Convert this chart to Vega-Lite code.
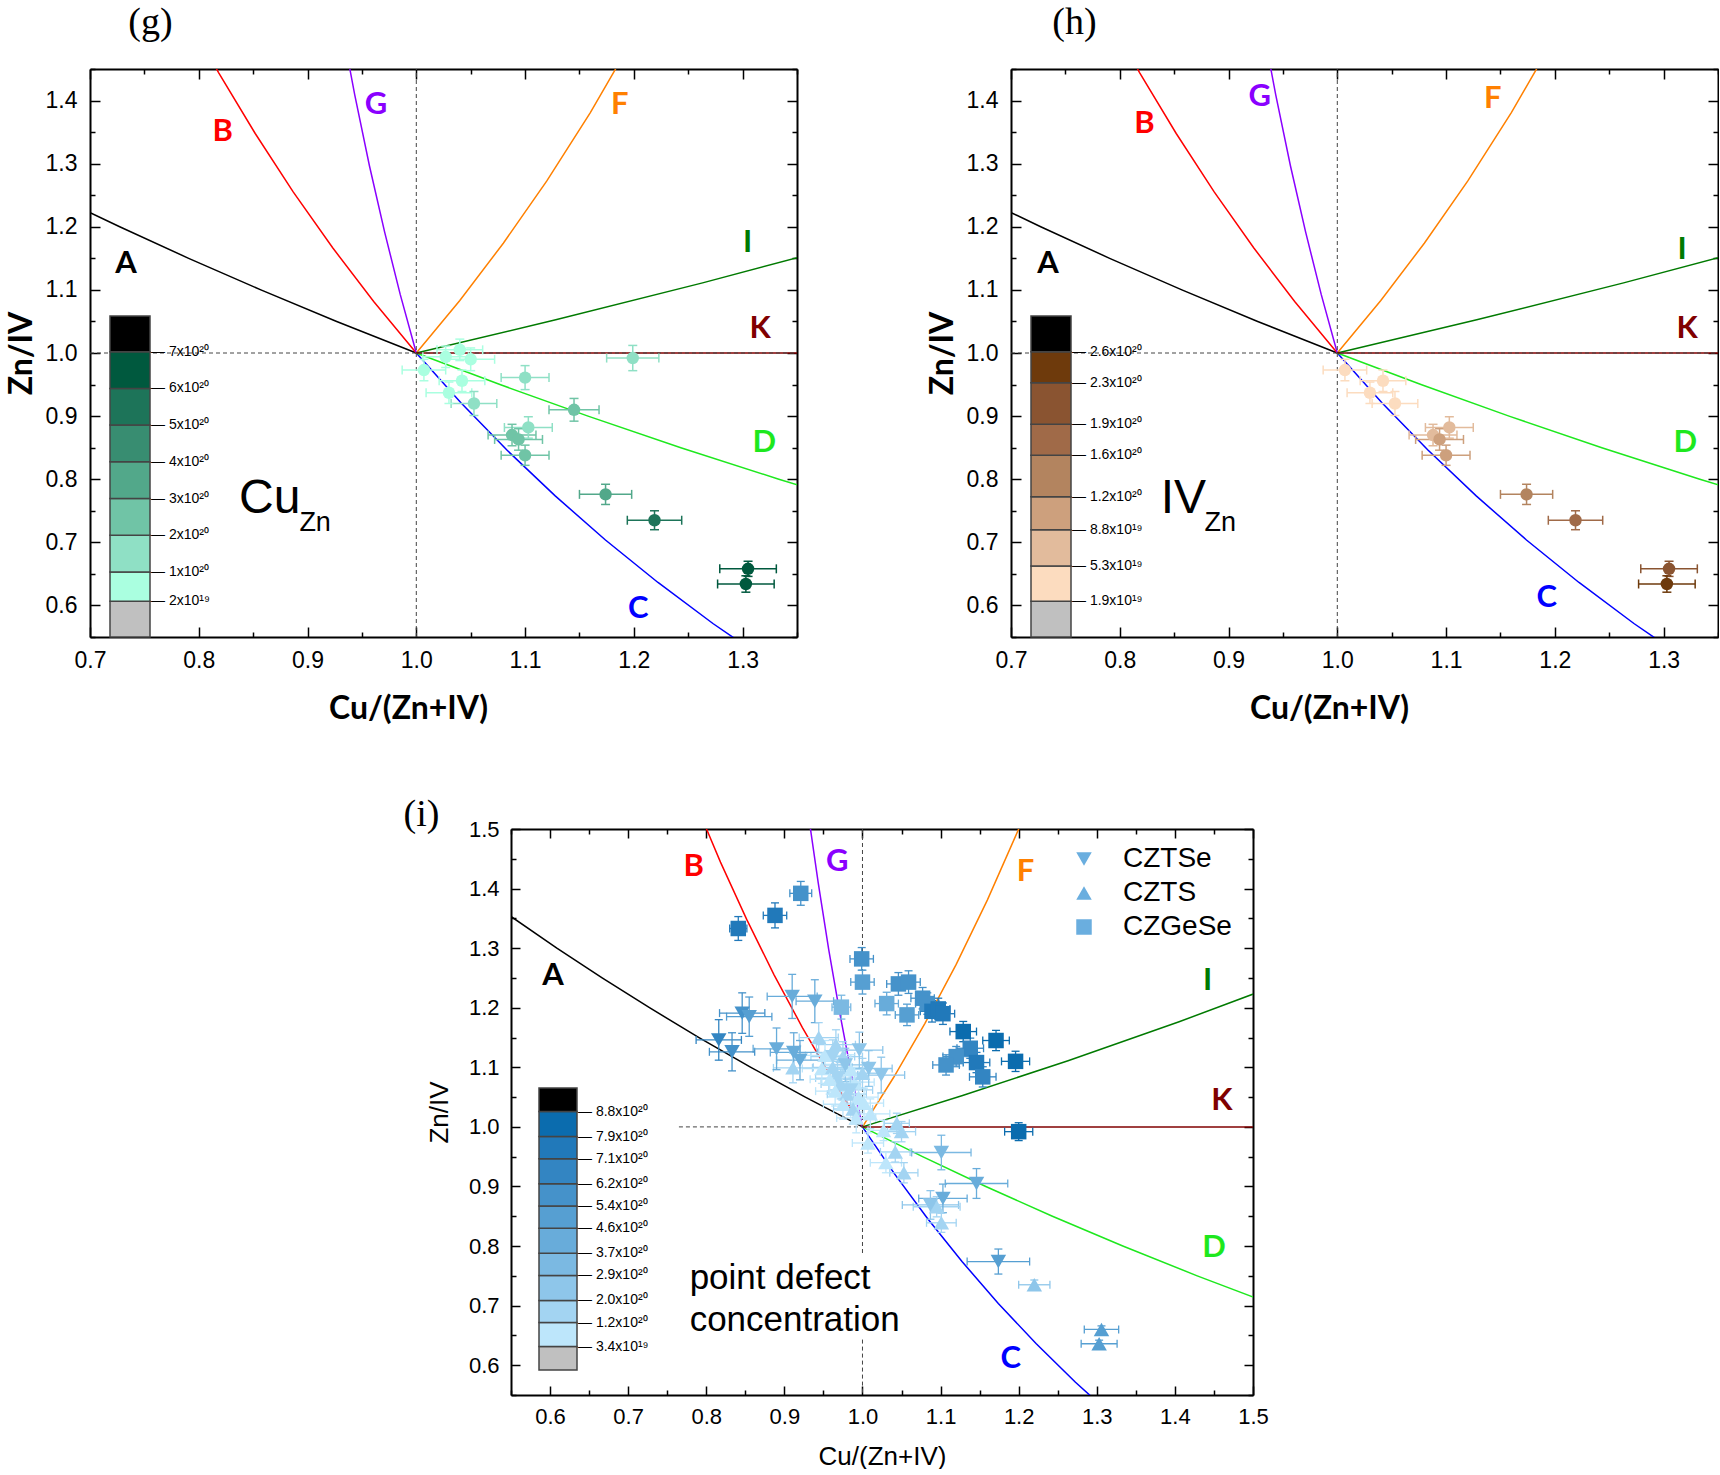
{
  "$schema": "https://vega.github.io/schema/vega-lite/v6.json",
  "background": "white",
  "autosize": {"type": "pad"},
  "padding": {"left": 5, "top": 3, "right": 0, "bottom": 0},
  "datasets": {
    "curves": [
      {"curve": "A", "x": 1, "y": 1}, {"curve": "A", "x": 0.9268, "y": 1.05}, {"curve": "A", "x": 0.8571, "y": 1.1}, {"curve": "A", "x": 0.7907, "y": 1.15}, {"curve": "A", "x": 0.7273, "y": 1.2}, {"curve": "A", "x": 0.6667, "y": 1.25}, {"curve": "A", "x": 0.6087, "y": 1.3}, {"curve": "A", "x": 0.5424, "y": 1.36},
      {"curve": "B", "x": 1, "y": 1}, {"curve": "B", "x": 0.9608, "y": 1.0816}, {"curve": "B", "x": 0.9231, "y": 1.1667}, {"curve": "B", "x": 0.8868, "y": 1.2553}, {"curve": "B", "x": 0.8519, "y": 1.3478}, {"curve": "B", "x": 0.8182, "y": 1.4444}, {"curve": "B", "x": 0.7857, "y": 1.5455},
      {"curve": "C", "x": 1, "y": 1}, {"curve": "C", "x": 1.0408, "y": 0.9216}, {"curve": "C", "x": 1.0833, "y": 0.8462}, {"curve": "C", "x": 1.1277, "y": 0.7736}, {"curve": "C", "x": 1.1739, "y": 0.7037}, {"curve": "C", "x": 1.2222, "y": 0.6364}, {"curve": "C", "x": 1.2727, "y": 0.5714}, {"curve": "C", "x": 1.3256, "y": 0.5088},
      {"curve": "D", "x": 1, "y": 1}, {"curve": "D", "x": 1.0769, "y": 0.95}, {"curve": "D", "x": 1.1579, "y": 0.9}, {"curve": "D", "x": 1.2432, "y": 0.85}, {"curve": "D", "x": 1.3333, "y": 0.8}, {"curve": "D", "x": 1.4286, "y": 0.75}, {"curve": "D", "x": 1.5294, "y": 0.7},
      {"curve": "F", "x": 1, "y": 1}, {"curve": "F", "x": 1.04, "y": 1.0833}, {"curve": "F", "x": 1.08, "y": 1.1739}, {"curve": "F", "x": 1.12, "y": 1.2727}, {"curve": "F", "x": 1.16, "y": 1.381}, {"curve": "F", "x": 1.2, "y": 1.5}, {"curve": "F", "x": 1.22, "y": 1.5641},
      {"curve": "G", "x": 1, "y": 1}, {"curve": "G", "x": 0.9852, "y": 1.0928}, {"curve": "G", "x": 0.9709, "y": 1.1915}, {"curve": "G", "x": 0.9569, "y": 1.2967}, {"curve": "G", "x": 0.9434, "y": 1.4091}, {"curve": "G", "x": 0.9302, "y": 1.5294},
      {"curve": "I", "x": 1, "y": 1}, {"curve": "I", "x": 1.1282, "y": 1.0526}, {"curve": "I", "x": 1.2632, "y": 1.1111}, {"curve": "I", "x": 1.4054, "y": 1.1765}, {"curve": "I", "x": 1.5556, "y": 1.25},
      {"curve": "K", "x": 1, "y": 1}, {"curve": "K", "x": 1.6, "y": 1}
    ],
    "guides": [
      {"panel": "top", "seg": "h", "x": 0.7, "y": 1}, {"panel": "top", "seg": "h", "x": 1.35, "y": 1},
      {"panel": "top", "seg": "v", "x": 1, "y": 0.55}, {"panel": "top", "seg": "v", "x": 1, "y": 1.45},
      {"panel": "i", "seg": "h", "x": 0.765, "y": 1}, {"panel": "i", "seg": "h", "x": 1, "y": 1},
      {"panel": "i", "seg": "v1", "x": 1, "y": 1.5}, {"panel": "i", "seg": "v1", "x": 1, "y": 0.785},
      {"panel": "i", "seg": "v2", "x": 1, "y": 0.643}, {"panel": "i", "seg": "v2", "x": 1, "y": 0.55}
    ],
    "letters": [
      {"panel": "g", "curve": "A", "x": 0.733, "y": 1.141}, {"panel": "g", "curve": "B", "x": 0.822, "y": 1.35}, {"panel": "g", "curve": "G", "x": 0.963, "y": 1.393}, {"panel": "g", "curve": "F", "x": 1.187, "y": 1.393}, {"panel": "g", "curve": "I", "x": 1.3045, "y": 1.175}, {"panel": "g", "curve": "K", "x": 1.316, "y": 1.038}, {"panel": "g", "curve": "D", "x": 1.32, "y": 0.857}, {"panel": "g", "curve": "C", "x": 1.204, "y": 0.595},
      {"panel": "h", "curve": "A", "x": 0.734, "y": 1.141}, {"panel": "h", "curve": "B", "x": 0.8226, "y": 1.363}, {"panel": "h", "curve": "G", "x": 0.9286, "y": 1.406}, {"panel": "h", "curve": "F", "x": 1.143, "y": 1.402}, {"panel": "h", "curve": "I", "x": 1.317, "y": 1.163}, {"panel": "h", "curve": "K", "x": 1.3216, "y": 1.038}, {"panel": "h", "curve": "D", "x": 1.32, "y": 0.857}, {"panel": "h", "curve": "C", "x": 1.1925, "y": 0.612},
      {"panel": "i", "curve": "A", "x": 0.6037, "y": 1.2526}, {"panel": "i", "curve": "B", "x": 0.7838, "y": 1.4356}, {"panel": "i", "curve": "G", "x": 0.9676, "y": 1.445}, {"panel": "i", "curve": "F", "x": 1.2088, "y": 1.428}, {"panel": "i", "curve": "I", "x": 1.442, "y": 1.245}, {"panel": "i", "curve": "K", "x": 1.46, "y": 1.043}, {"panel": "i", "curve": "D", "x": 1.45, "y": 0.796}, {"panel": "i", "curve": "C", "x": 1.19, "y": 0.61}
    ],
    "notes": [
      {"panel": "g", "role": "tag", "text": "(g)", "x": 0.7556, "y": 1.5055},
      {"panel": "g", "role": "big", "text": "Cu", "x": 0.837, "y": 0.7463},
      {"panel": "g", "role": "sub", "text": "Zn", "x": 0.8925, "y": 0.7187},
      {"panel": "h", "role": "tag", "text": "(h)", "x": 0.7584, "y": 1.5055},
      {"panel": "h", "role": "big", "text": "IV", "x": 0.8377, "y": 0.7463},
      {"panel": "h", "role": "sub", "text": "Zn", "x": 0.8779, "y": 0.7187},
      {"panel": "i", "role": "tag", "text": "(i)", "x": 0.4354, "y": 1.505},
      {"panel": "i", "role": "note", "text": "point defect", "x": 0.7787, "y": 0.728},
      {"panel": "i", "role": "note", "text": "concentration", "x": 0.7787, "y": 0.658}
    ],
    "cuzn": [
      {"x": 1.040, "y": 1.005, "xerr": 0.021, "yerr": 0.017, "conc": 6e19},
      {"x": 1.027, "y": 0.994, "xerr": 0.021, "yerr": 0.017, "conc": 6e19},
      {"x": 1.050, "y": 0.990, "xerr": 0.022, "yerr": 0.018, "conc": 7e19},
      {"x": 1.007, "y": 0.973, "xerr": 0.020, "yerr": 0.017, "conc": 5e19},
      {"x": 1.042, "y": 0.956, "xerr": 0.021, "yerr": 0.017, "conc": 6e19},
      {"x": 1.030, "y": 0.937, "xerr": 0.021, "yerr": 0.017, "conc": 6e19},
      {"x": 1.053, "y": 0.920, "xerr": 0.021, "yerr": 0.019, "conc": 1.3e20},
      {"x": 1.100, "y": 0.961, "xerr": 0.022, "yerr": 0.019, "conc": 1.5e20},
      {"x": 1.199, "y": 0.992, "xerr": 0.024, "yerr": 0.020, "conc": 1.5e20},
      {"x": 1.103, "y": 0.882, "xerr": 0.022, "yerr": 0.017, "conc": 1.5e20},
      {"x": 1.145, "y": 0.910, "xerr": 0.023, "yerr": 0.018, "conc": 2.5e20},
      {"x": 1.088, "y": 0.870, "xerr": 0.022, "yerr": 0.017, "conc": 2.2e20},
      {"x": 1.094, "y": 0.863, "xerr": 0.022, "yerr": 0.017, "conc": 2.6e20},
      {"x": 1.100, "y": 0.838, "xerr": 0.022, "yerr": 0.016, "conc": 2.5e20},
      {"x": 1.174, "y": 0.776, "xerr": 0.024, "yerr": 0.016, "conc": 3.5e20},
      {"x": 1.219, "y": 0.735, "xerr": 0.025, "yerr": 0.015, "conc": 5.5e20},
      {"x": 1.305, "y": 0.658, "xerr": 0.026, "yerr": 0.012, "conc": 6.5e20},
      {"x": 1.303, "y": 0.634, "xerr": 0.026, "yerr": 0.013, "conc": 6.5e20}
    ],
    "ivzn": [
      {"x": 1.007, "y": 0.973, "xerr": 0.020, "yerr": 0.017, "conc": 3e19},
      {"x": 1.042, "y": 0.956, "xerr": 0.021, "yerr": 0.017, "conc": 4.5e19},
      {"x": 1.030, "y": 0.937, "xerr": 0.021, "yerr": 0.017, "conc": 4e19},
      {"x": 1.053, "y": 0.920, "xerr": 0.021, "yerr": 0.019, "conc": 4e19},
      {"x": 1.103, "y": 0.882, "xerr": 0.022, "yerr": 0.017, "conc": 7e19},
      {"x": 1.088, "y": 0.870, "xerr": 0.022, "yerr": 0.017, "conc": 8e19},
      {"x": 1.094, "y": 0.863, "xerr": 0.022, "yerr": 0.017, "conc": 1.0e20},
      {"x": 1.100, "y": 0.838, "xerr": 0.022, "yerr": 0.016, "conc": 1.0e20},
      {"x": 1.174, "y": 0.776, "xerr": 0.024, "yerr": 0.016, "conc": 1.4e20},
      {"x": 1.219, "y": 0.735, "xerr": 0.025, "yerr": 0.015, "conc": 1.75e20},
      {"x": 1.305, "y": 0.658, "xerr": 0.026, "yerr": 0.012, "conc": 2.1e20},
      {"x": 1.303, "y": 0.634, "xerr": 0.026, "yerr": 0.013, "conc": 2.45e20}
    ],
    "defects": [
      {"material": "CZTS", "x": 0.944, "y": 1.150, "xerr": 0.025, "yerr": 0.025, "conc": 1.6e20},
      {"material": "CZTS", "x": 0.966, "y": 1.138, "xerr": 0.025, "yerr": 0.025, "conc": 1.6e20},
      {"material": "CZTS", "x": 0.952, "y": 1.120, "xerr": 0.025, "yerr": 0.025, "conc": 8e19},
      {"material": "CZTS", "x": 0.975, "y": 1.118, "xerr": 0.025, "yerr": 0.025, "conc": 1.6e20},
      {"material": "CZTS", "x": 0.948, "y": 1.098, "xerr": 0.025, "yerr": 0.025, "conc": 8e19},
      {"material": "CZTS", "x": 0.962, "y": 1.100, "xerr": 0.025, "yerr": 0.025, "conc": 1.6e20},
      {"material": "CZTS", "x": 0.985, "y": 1.096, "xerr": 0.025, "yerr": 0.025, "conc": 8e19},
      {"material": "CZTS", "x": 0.958, "y": 1.080, "xerr": 0.025, "yerr": 0.025, "conc": 8e19},
      {"material": "CZTS", "x": 0.972, "y": 1.072, "xerr": 0.025, "yerr": 0.025, "conc": 1.6e20},
      {"material": "CZTS", "x": 0.990, "y": 1.075, "xerr": 0.025, "yerr": 0.025, "conc": 8e19},
      {"material": "CZTS", "x": 0.965, "y": 1.060, "xerr": 0.025, "yerr": 0.025, "conc": 8e19},
      {"material": "CZTS", "x": 0.980, "y": 1.055, "xerr": 0.025, "yerr": 0.025, "conc": 1.6e20},
      {"material": "CZTS", "x": 0.995, "y": 1.050, "xerr": 0.025, "yerr": 0.025, "conc": 8e19},
      {"material": "CZTS", "x": 0.975, "y": 1.038, "xerr": 0.025, "yerr": 0.025, "conc": 8e19},
      {"material": "CZTS", "x": 0.988, "y": 1.030, "xerr": 0.025, "yerr": 0.025, "conc": 1.6e20},
      {"material": "CZTS", "x": 1.002, "y": 1.040, "xerr": 0.025, "yerr": 0.025, "conc": 8e19},
      {"material": "CZTS", "x": 0.992, "y": 1.015, "xerr": 0.025, "yerr": 0.025, "conc": 8e19},
      {"material": "CZTS", "x": 1.010, "y": 1.022, "xerr": 0.025, "yerr": 0.025, "conc": 8e19},
      {"material": "CZTS", "x": 0.911, "y": 1.099, "xerr": 0.025, "yerr": 0.025, "conc": 1.6e20},
      {"material": "CZTS", "x": 1.000, "y": 1.090, "xerr": 0.025, "yerr": 0.025, "conc": 1.6e20},
      {"material": "CZTS", "x": 1.007, "y": 0.973, "xerr": 0.020, "yerr": 0.017, "conc": 8e19},
      {"material": "CZTS", "x": 1.027, "y": 0.994, "xerr": 0.020, "yerr": 0.017, "conc": 8e19},
      {"material": "CZTS", "x": 1.044, "y": 1.006, "xerr": 0.016, "yerr": 0.017, "conc": 1.6e20},
      {"material": "CZTS", "x": 1.050, "y": 0.992, "xerr": 0.018, "yerr": 0.017, "conc": 1.6e20},
      {"material": "CZTS", "x": 1.042, "y": 0.958, "xerr": 0.019, "yerr": 0.017, "conc": 1.6e20},
      {"material": "CZTS", "x": 1.030, "y": 0.940, "xerr": 0.020, "yerr": 0.017, "conc": 8e19},
      {"material": "CZTS", "x": 1.053, "y": 0.923, "xerr": 0.018, "yerr": 0.017, "conc": 1.6e20},
      {"material": "CZTS", "x": 1.095, "y": 0.866, "xerr": 0.030, "yerr": 0.017, "conc": 1.6e20},
      {"material": "CZTS", "x": 1.101, "y": 0.839, "xerr": 0.019, "yerr": 0.016, "conc": 1.6e20},
      {"material": "CZTS", "x": 1.220, "y": 0.735, "xerr": 0.020, "yerr": 0.008, "conc": 2.4e20},
      {"material": "CZTS", "x": 1.306, "y": 0.660, "xerr": 0.022, "yerr": 0.006, "conc": 5.0e20},
      {"material": "CZTS", "x": 1.303, "y": 0.636, "xerr": 0.023, "yerr": 0.006, "conc": 5.0e20},
      {"material": "CZTSe", "x": 0.968, "y": 1.082, "xerr": 0.028, "yerr": 0.028, "conc": 1.6e20},
      {"material": "CZTSe", "x": 0.985, "y": 1.062, "xerr": 0.028, "yerr": 0.028, "conc": 1.6e20},
      {"material": "CZTSe", "x": 0.978, "y": 1.104, "xerr": 0.028, "yerr": 0.028, "conc": 2.4e20},
      {"material": "CZTSe", "x": 0.962, "y": 1.118, "xerr": 0.028, "yerr": 0.028, "conc": 1.6e20},
      {"material": "CZTSe", "x": 0.910, "y": 1.219, "xerr": 0.032, "yerr": 0.037, "conc": 4.2e20},
      {"material": "CZTSe", "x": 0.939, "y": 1.211, "xerr": 0.024, "yerr": 0.036, "conc": 4.2e20},
      {"material": "CZTSe", "x": 0.846, "y": 1.191, "xerr": 0.029, "yerr": 0.034, "conc": 5.8e20},
      {"material": "CZTSe", "x": 0.855, "y": 1.185, "xerr": 0.029, "yerr": 0.033, "conc": 5.0e20},
      {"material": "CZTSe", "x": 0.816, "y": 1.146, "xerr": 0.029, "yerr": 0.034, "conc": 6.6e20},
      {"material": "CZTSe", "x": 0.833, "y": 1.126, "xerr": 0.029, "yerr": 0.032, "conc": 5.8e20},
      {"material": "CZTSe", "x": 0.890, "y": 1.131, "xerr": 0.030, "yerr": 0.035, "conc": 4.2e20},
      {"material": "CZTSe", "x": 0.912, "y": 1.125, "xerr": 0.030, "yerr": 0.033, "conc": 4.2e20},
      {"material": "CZTSe", "x": 0.920, "y": 1.112, "xerr": 0.030, "yerr": 0.033, "conc": 3.8e20},
      {"material": "CZTSe", "x": 0.996, "y": 1.129, "xerr": 0.030, "yerr": 0.030, "conc": 2.4e20},
      {"material": "CZTSe", "x": 1.008, "y": 1.098, "xerr": 0.030, "yerr": 0.030, "conc": 2.4e20},
      {"material": "CZTSe", "x": 1.024, "y": 1.087, "xerr": 0.030, "yerr": 0.030, "conc": 2.4e20},
      {"material": "CZTSe", "x": 1.101, "y": 0.957, "xerr": 0.038, "yerr": 0.029, "conc": 3.3e20},
      {"material": "CZTSe", "x": 1.146, "y": 0.905, "xerr": 0.040, "yerr": 0.025, "conc": 4.2e20},
      {"material": "CZTSe", "x": 1.103, "y": 0.880, "xerr": 0.031, "yerr": 0.024, "conc": 4.2e20},
      {"material": "CZTSe", "x": 1.087, "y": 0.869, "xerr": 0.036, "yerr": 0.024, "conc": 2.4e20},
      {"material": "CZTSe", "x": 1.174, "y": 0.774, "xerr": 0.040, "yerr": 0.021, "conc": 5.0e20},
      {"material": "CZGeSe", "x": 0.841, "y": 1.333, "xerr": 0.011, "yerr": 0.020, "conc": 7.5e20},
      {"material": "CZGeSe", "x": 0.888, "y": 1.355, "xerr": 0.015, "yerr": 0.021, "conc": 7.5e20},
      {"material": "CZGeSe", "x": 0.921, "y": 1.392, "xerr": 0.014, "yerr": 0.020, "conc": 5.8e20},
      {"material": "CZGeSe", "x": 0.999, "y": 1.282, "xerr": 0.015, "yerr": 0.019, "conc": 5.8e20},
      {"material": "CZGeSe", "x": 1.000, "y": 1.243, "xerr": 0.015, "yerr": 0.020, "conc": 5.0e20},
      {"material": "CZGeSe", "x": 0.973, "y": 1.201, "xerr": 0.012, "yerr": 0.020, "conc": 3.3e20},
      {"material": "CZGeSe", "x": 1.031, "y": 1.207, "xerr": 0.015, "yerr": 0.019, "conc": 4.2e20},
      {"material": "CZGeSe", "x": 1.046, "y": 1.240, "xerr": 0.015, "yerr": 0.019, "conc": 5.8e20},
      {"material": "CZGeSe", "x": 1.059, "y": 1.243, "xerr": 0.015, "yerr": 0.019, "conc": 5.8e20},
      {"material": "CZGeSe", "x": 1.057, "y": 1.188, "xerr": 0.015, "yerr": 0.018, "conc": 5.0e20},
      {"material": "CZGeSe", "x": 1.077, "y": 1.216, "xerr": 0.015, "yerr": 0.018, "conc": 5.8e20},
      {"material": "CZGeSe", "x": 1.083, "y": 1.207, "xerr": 0.015, "yerr": 0.018, "conc": 5.8e20},
      {"material": "CZGeSe", "x": 1.089, "y": 1.194, "xerr": 0.015, "yerr": 0.018, "conc": 7.5e20},
      {"material": "CZGeSe", "x": 1.097, "y": 1.198, "xerr": 0.015, "yerr": 0.018, "conc": 7.5e20},
      {"material": "CZGeSe", "x": 1.103, "y": 1.190, "xerr": 0.015, "yerr": 0.018, "conc": 7.5e20},
      {"material": "CZGeSe", "x": 1.129, "y": 1.160, "xerr": 0.017, "yerr": 0.017, "conc": 8.3e20},
      {"material": "CZGeSe", "x": 1.171, "y": 1.145, "xerr": 0.017, "yerr": 0.017, "conc": 8.3e20},
      {"material": "CZGeSe", "x": 1.138, "y": 1.132, "xerr": 0.017, "yerr": 0.017, "conc": 6.6e20},
      {"material": "CZGeSe", "x": 1.120, "y": 1.118, "xerr": 0.017, "yerr": 0.017, "conc": 5.8e20},
      {"material": "CZGeSe", "x": 1.146, "y": 1.108, "xerr": 0.017, "yerr": 0.017, "conc": 7.5e20},
      {"material": "CZGeSe", "x": 1.196, "y": 1.110, "xerr": 0.018, "yerr": 0.017, "conc": 8.3e20},
      {"material": "CZGeSe", "x": 1.107, "y": 1.104, "xerr": 0.017, "yerr": 0.017, "conc": 5.8e20},
      {"material": "CZGeSe", "x": 1.154, "y": 1.084, "xerr": 0.017, "yerr": 0.017, "conc": 6.6e20},
      {"material": "CZGeSe", "x": 1.200, "y": 0.992, "xerr": 0.018, "yerr": 0.015, "conc": 8.3e20}
    ]
  },
  "vconcat": [
    {
      "hconcat": [
        {
          "width": 707,
          "height": 568,
          "layer": [
            {
              "data": {"name": "curves"},
              "mark": {"type": "line", "clip": true, "strokeWidth": 1.5},
              "encoding": {
                "x": {"field": "x", "type": "quantitative", "scale": {"domain": [0.7, 1.35], "nice": false, "zero": false},
                  "axis": {"orient": "bottom", "values": [0.7, 0.75, 0.8, 0.85, 0.9, 0.95, 1, 1.05, 1.1, 1.15, 1.2, 1.25, 1.3, 1.35],
                    "labelExpr": "abs(datum.value * 10 - round(datum.value * 10)) < 0.001 ? format(datum.value, '.1f') : ''",
                    "tickSize": {"condition": {"test": "abs(datum.value * 10 - round(datum.value * 10)) < 0.001", "value": -10}, "value": -5},
                    "labelFontSize": 23, "labelPadding": 22, "title": "Cu/(Zn+IV)", "titleFont": "Lato", "titleFontWeight": "bold", "titleFontSize": 32, "titlePadding": 16, "titleX": 318}},
                "y": {"field": "y", "type": "quantitative", "scale": {"domain": [0.55, 1.45], "nice": false, "zero": false},
                  "axis": {"orient": "left", "values": [0.55, 0.6, 0.65, 0.7, 0.75, 0.8, 0.85, 0.9, 0.95, 1, 1.05, 1.1, 1.15, 1.2, 1.25, 1.3, 1.35, 1.4, 1.45],
                    "labelExpr": "abs(datum.value * 10 - round(datum.value * 10)) < 0.001 ? format(datum.value, '.1f') : ''",
                    "tickSize": {"condition": {"test": "abs(datum.value * 10 - round(datum.value * 10)) < 0.001", "value": -10}, "value": -5},
                    "labelFontSize": 23, "labelPadding": 23, "title": "Zn/IV", "titleFont": "Lato", "titleFontWeight": "bold", "titleFontSize": 32, "titlePadding": 7}},
                "stroke": {"field": "curve", "type": "nominal", "scale": {"domain": ["A", "B", "C", "D", "F", "G", "I", "K"], "range": ["#000000", "#ff0000", "#0000ff", "#1ee81e", "#ff8000", "#8a00ff", "#007a00", "#800000"]}, "legend": null}
              }
            },
            {
              "data": {"name": "guides"},
              "transform": [{"filter": "datum.panel == 'top'"}],
              "mark": {"type": "line", "clip": true, "strokeDash": [4, 3], "strokeWidth": 1, "color": "#444444"},
              "encoding": {
                "x": {"field": "x", "type": "quantitative", "axis": {"orient": "top", "labels": false, "title": null, "values": [0.7, 0.75, 0.8, 0.85, 0.9, 0.95, 1, 1.05, 1.1, 1.15, 1.2, 1.25, 1.3, 1.35],
                  "tickSize": {"condition": {"test": "abs(datum.value * 10 - round(datum.value * 10)) < 0.001", "value": -10}, "value": -5}}},
                "y": {"field": "y", "type": "quantitative", "axis": {"orient": "right", "labels": false, "title": null, "values": [0.55, 0.6, 0.65, 0.7, 0.75, 0.8, 0.85, 0.9, 0.95, 1, 1.05, 1.1, 1.15, 1.2, 1.25, 1.3, 1.35, 1.4, 1.45],
                  "tickSize": {"condition": {"test": "abs(datum.value * 10 - round(datum.value * 10)) < 0.001", "value": -10}, "value": -5}}},
                "detail": {"field": "seg"}
              }
            },
            {
              "data": {"name": "cuzn"},
              "mark": {"type": "errorbar", "ticks": {"opacity": 1}, "rule": {"opacity": 1}, "size": 9, "thickness": 1.5},
              "encoding": {
                "x": {"field": "x", "type": "quantitative", "axis": null},
                "xError": {"field": "xerr"},
                "y": {"field": "y", "type": "quantitative", "axis": null},
                "color": {"field": "conc", "type": "quantitative", "scale": {"type": "threshold", "domain": [2e19, 1e20, 2e20, 3e20, 4e20, 5e20, 6e20, 7e20], "range": ["#c0c0c0", "#aaffe0", "#8fe0c5", "#70c4a6", "#52a88a", "#388d71", "#1d7459", "#00593e", "#000000"]},
                  "legend": {"type": "gradient", "orient": "none", "legendX": 20, "legendY": 247, "direction": "vertical", "title": null, "padding": 0, "gradientLength": 321, "gradientThickness": 40, "gradientStrokeColor": "#444444", "gradientStrokeWidth": 1.5, "labelFontSize": 14, "labelFont": "Liberation Sans", "labelColor": "black", "labelOffset": 1, "labelOverlap": false,
                    "labelExpr": "datum.value > 0 ? '— ' + format(datum.value / pow(10, floor(log(datum.value) / LN10 + 0.000001)), '.0f') + 'x10' + (floor(log(datum.value) / LN10 + 0.000001) >= 20 ? '²⁰' : '¹⁹') : ''"}}
              }
            },
            {
              "data": {"name": "cuzn"},
              "mark": {"type": "errorbar", "ticks": {"opacity": 1}, "rule": {"opacity": 1}, "size": 9, "thickness": 1.5},
              "encoding": {
                "x": {"field": "x", "type": "quantitative", "axis": null},
                "y": {"field": "y", "type": "quantitative", "axis": null},
                "yError": {"field": "yerr"},
                "color": {"field": "conc", "type": "quantitative", "scale": {"type": "threshold", "domain": [2e19, 1e20, 2e20, 3e20, 4e20, 5e20, 6e20, 7e20], "range": ["#c0c0c0", "#aaffe0", "#8fe0c5", "#70c4a6", "#52a88a", "#388d71", "#1d7459", "#00593e", "#000000"]},
                  "legend": {"type": "gradient", "orient": "none", "legendX": 20, "legendY": 247, "direction": "vertical", "title": null, "padding": 0, "gradientLength": 321, "gradientThickness": 40, "gradientStrokeColor": "#444444", "gradientStrokeWidth": 1.5, "labelFontSize": 14, "labelFont": "Liberation Sans", "labelColor": "black", "labelOffset": 1, "labelOverlap": false,
                    "labelExpr": "datum.value > 0 ? '— ' + format(datum.value / pow(10, floor(log(datum.value) / LN10 + 0.000001)), '.0f') + 'x10' + (floor(log(datum.value) / LN10 + 0.000001) >= 20 ? '²⁰' : '¹⁹') : ''"}}
              }
            },
            {
              "data": {"name": "cuzn"},
              "mark": {"type": "circle", "size": 155, "opacity": 1},
              "encoding": {
                "x": {"field": "x", "type": "quantitative", "axis": null},
                "y": {"field": "y", "type": "quantitative", "axis": null},
                "color": {"field": "conc", "type": "quantitative", "scale": {"type": "threshold", "domain": [2e19, 1e20, 2e20, 3e20, 4e20, 5e20, 6e20, 7e20], "range": ["#c0c0c0", "#aaffe0", "#8fe0c5", "#70c4a6", "#52a88a", "#388d71", "#1d7459", "#00593e", "#000000"]},
                  "legend": {"type": "gradient", "orient": "none", "legendX": 20, "legendY": 247, "direction": "vertical", "title": null, "padding": 0, "gradientLength": 321, "gradientThickness": 40, "gradientStrokeColor": "#444444", "gradientStrokeWidth": 1.5, "labelFontSize": 14, "labelFont": "Liberation Sans", "labelColor": "black", "labelOffset": 1, "labelOverlap": false,
                    "labelExpr": "datum.value > 0 ? '— ' + format(datum.value / pow(10, floor(log(datum.value) / LN10 + 0.000001)), '.0f') + 'x10' + (floor(log(datum.value) / LN10 + 0.000001) >= 20 ? '²⁰' : '¹⁹') : ''"}}
              }
            },
            {
              "data": {"name": "letters"},
              "transform": [{"filter": "datum.panel == 'g'"}],
              "mark": {"type": "text", "font": "Lato", "fontWeight": "bold", "fontSize": 31, "align": "center", "baseline": "middle"},
              "encoding": {
                "x": {"field": "x", "type": "quantitative", "axis": null},
                "y": {"field": "y", "type": "quantitative", "axis": null},
                "text": {"field": "curve"},
                "fill": {"field": "curve", "type": "nominal", "scale": {"domain": ["A", "B", "C", "D", "F", "G", "I", "K"], "range": ["#000000", "#ff0000", "#0000ff", "#1ee81e", "#ff8000", "#8a00ff", "#007a00", "#800000"]}, "legend": null}
              }
            },
            {
              "data": {"name": "notes"},
              "transform": [{"filter": "datum.panel == 'g' && datum.role == 'tag'"}],
              "mark": {"type": "text", "font": "Liberation Serif", "fontSize": 38, "align": "center", "baseline": "alphabetic", "color": "black"},
              "encoding": {"x": {"field": "x", "type": "quantitative", "axis": null}, "y": {"field": "y", "type": "quantitative", "axis": null}, "text": {"field": "text"}}
            },
            {
              "data": {"name": "notes"},
              "transform": [{"filter": "datum.panel == 'g' && datum.role == 'big'"}],
              "mark": {"type": "text", "font": "Liberation Sans", "fontSize": 48, "align": "left", "baseline": "alphabetic", "color": "black"},
              "encoding": {"x": {"field": "x", "type": "quantitative", "axis": null}, "y": {"field": "y", "type": "quantitative", "axis": null}, "text": {"field": "text"}}
            },
            {
              "data": {"name": "notes"},
              "transform": [{"filter": "datum.panel == 'g' && datum.role == 'sub'"}],
              "mark": {"type": "text", "font": "Liberation Sans", "fontSize": 27, "align": "left", "baseline": "alphabetic", "color": "black"},
              "encoding": {"x": {"field": "x", "type": "quantitative", "axis": null}, "y": {"field": "y", "type": "quantitative", "axis": null}, "text": {"field": "text"}}
            }
          ]
        },
        {
          "width": 707,
          "height": 568,
          "layer": [
            {
              "data": {"name": "curves"},
              "mark": {"type": "line", "clip": true, "strokeWidth": 1.5},
              "encoding": {
                "x": {"field": "x", "type": "quantitative", "scale": {"domain": [0.7, 1.35], "nice": false, "zero": false},
                  "axis": {"orient": "bottom", "values": [0.7, 0.75, 0.8, 0.85, 0.9, 0.95, 1, 1.05, 1.1, 1.15, 1.2, 1.25, 1.3, 1.35],
                    "labelExpr": "abs(datum.value * 10 - round(datum.value * 10)) < 0.001 ? format(datum.value, '.1f') : ''",
                    "tickSize": {"condition": {"test": "abs(datum.value * 10 - round(datum.value * 10)) < 0.001", "value": -10}, "value": -5},
                    "labelFontSize": 23, "labelPadding": 22, "title": "Cu/(Zn+IV)", "titleFont": "Lato", "titleFontWeight": "bold", "titleFontSize": 32, "titlePadding": 16, "titleX": 318}},
                "y": {"field": "y", "type": "quantitative", "scale": {"domain": [0.55, 1.45], "nice": false, "zero": false},
                  "axis": {"orient": "left", "values": [0.55, 0.6, 0.65, 0.7, 0.75, 0.8, 0.85, 0.9, 0.95, 1, 1.05, 1.1, 1.15, 1.2, 1.25, 1.3, 1.35, 1.4, 1.45],
                    "labelExpr": "abs(datum.value * 10 - round(datum.value * 10)) < 0.001 ? format(datum.value, '.1f') : ''",
                    "tickSize": {"condition": {"test": "abs(datum.value * 10 - round(datum.value * 10)) < 0.001", "value": -10}, "value": -5},
                    "labelFontSize": 23, "labelPadding": 23, "title": "Zn/IV", "titleFont": "Lato", "titleFontWeight": "bold", "titleFontSize": 32, "titlePadding": 7}},
                "stroke": {"field": "curve", "type": "nominal", "scale": {"domain": ["A", "B", "C", "D", "F", "G", "I", "K"], "range": ["#000000", "#ff0000", "#0000ff", "#1ee81e", "#ff8000", "#8a00ff", "#007a00", "#800000"]}, "legend": null}
              }
            },
            {
              "data": {"name": "guides"},
              "transform": [{"filter": "datum.panel == 'top'"}],
              "mark": {"type": "line", "clip": true, "strokeDash": [4, 3], "strokeWidth": 1, "color": "#444444"},
              "encoding": {
                "x": {"field": "x", "type": "quantitative", "axis": {"orient": "top", "labels": false, "title": null, "values": [0.7, 0.75, 0.8, 0.85, 0.9, 0.95, 1, 1.05, 1.1, 1.15, 1.2, 1.25, 1.3, 1.35],
                  "tickSize": {"condition": {"test": "abs(datum.value * 10 - round(datum.value * 10)) < 0.001", "value": -10}, "value": -5}}},
                "y": {"field": "y", "type": "quantitative", "axis": {"orient": "right", "labels": false, "title": null, "values": [0.55, 0.6, 0.65, 0.7, 0.75, 0.8, 0.85, 0.9, 0.95, 1, 1.05, 1.1, 1.15, 1.2, 1.25, 1.3, 1.35, 1.4, 1.45],
                  "tickSize": {"condition": {"test": "abs(datum.value * 10 - round(datum.value * 10)) < 0.001", "value": -10}, "value": -5}}},
                "detail": {"field": "seg"}
              }
            },
            {
              "data": {"name": "ivzn"},
              "mark": {"type": "errorbar", "ticks": {"opacity": 1}, "rule": {"opacity": 1}, "size": 9, "thickness": 1.5},
              "encoding": {
                "x": {"field": "x", "type": "quantitative", "axis": null},
                "xError": {"field": "xerr"},
                "y": {"field": "y", "type": "quantitative", "axis": null},
                "color": {"field": "conc", "type": "quantitative", "scale": {"type": "threshold", "domain": [1.9e19, 5.3e19, 8.8e19, 1.2e20, 1.6e20, 1.9e20, 2.3e20, 2.6e20], "range": ["#c0c0c0", "#fcdcbf", "#e2bb9c", "#cda07d", "#b3845f", "#a06a48", "#8a5431", "#6e3a0c", "#000000"]},
                  "legend": {"type": "gradient", "orient": "none", "legendX": 20, "legendY": 247, "direction": "vertical", "title": null, "padding": 0, "gradientLength": 321, "gradientThickness": 40, "gradientStrokeColor": "#444444", "gradientStrokeWidth": 1.5, "labelFontSize": 14, "labelFont": "Liberation Sans", "labelColor": "black", "labelOffset": 1, "labelOverlap": false,
                    "labelExpr": "datum.value > 0 ? '— ' + format(datum.value / pow(10, floor(log(datum.value) / LN10 + 0.000001)), '.1f') + 'x10' + (floor(log(datum.value) / LN10 + 0.000001) >= 20 ? '²⁰' : '¹⁹') : ''"}}
              }
            },
            {
              "data": {"name": "ivzn"},
              "mark": {"type": "errorbar", "ticks": {"opacity": 1}, "rule": {"opacity": 1}, "size": 9, "thickness": 1.5},
              "encoding": {
                "x": {"field": "x", "type": "quantitative", "axis": null},
                "y": {"field": "y", "type": "quantitative", "axis": null},
                "yError": {"field": "yerr"},
                "color": {"field": "conc", "type": "quantitative", "scale": {"type": "threshold", "domain": [1.9e19, 5.3e19, 8.8e19, 1.2e20, 1.6e20, 1.9e20, 2.3e20, 2.6e20], "range": ["#c0c0c0", "#fcdcbf", "#e2bb9c", "#cda07d", "#b3845f", "#a06a48", "#8a5431", "#6e3a0c", "#000000"]},
                  "legend": {"type": "gradient", "orient": "none", "legendX": 20, "legendY": 247, "direction": "vertical", "title": null, "padding": 0, "gradientLength": 321, "gradientThickness": 40, "gradientStrokeColor": "#444444", "gradientStrokeWidth": 1.5, "labelFontSize": 14, "labelFont": "Liberation Sans", "labelColor": "black", "labelOffset": 1, "labelOverlap": false,
                    "labelExpr": "datum.value > 0 ? '— ' + format(datum.value / pow(10, floor(log(datum.value) / LN10 + 0.000001)), '.1f') + 'x10' + (floor(log(datum.value) / LN10 + 0.000001) >= 20 ? '²⁰' : '¹⁹') : ''"}}
              }
            },
            {
              "data": {"name": "ivzn"},
              "mark": {"type": "circle", "size": 155, "opacity": 1},
              "encoding": {
                "x": {"field": "x", "type": "quantitative", "axis": null},
                "y": {"field": "y", "type": "quantitative", "axis": null},
                "color": {"field": "conc", "type": "quantitative", "scale": {"type": "threshold", "domain": [1.9e19, 5.3e19, 8.8e19, 1.2e20, 1.6e20, 1.9e20, 2.3e20, 2.6e20], "range": ["#c0c0c0", "#fcdcbf", "#e2bb9c", "#cda07d", "#b3845f", "#a06a48", "#8a5431", "#6e3a0c", "#000000"]},
                  "legend": {"type": "gradient", "orient": "none", "legendX": 20, "legendY": 247, "direction": "vertical", "title": null, "padding": 0, "gradientLength": 321, "gradientThickness": 40, "gradientStrokeColor": "#444444", "gradientStrokeWidth": 1.5, "labelFontSize": 14, "labelFont": "Liberation Sans", "labelColor": "black", "labelOffset": 1, "labelOverlap": false,
                    "labelExpr": "datum.value > 0 ? '— ' + format(datum.value / pow(10, floor(log(datum.value) / LN10 + 0.000001)), '.1f') + 'x10' + (floor(log(datum.value) / LN10 + 0.000001) >= 20 ? '²⁰' : '¹⁹') : ''"}}
              }
            },
            {
              "data": {"name": "letters"},
              "transform": [{"filter": "datum.panel == 'h'"}],
              "mark": {"type": "text", "font": "Lato", "fontWeight": "bold", "fontSize": 31, "align": "center", "baseline": "middle"},
              "encoding": {
                "x": {"field": "x", "type": "quantitative", "axis": null},
                "y": {"field": "y", "type": "quantitative", "axis": null},
                "text": {"field": "curve"},
                "fill": {"field": "curve", "type": "nominal", "scale": {"domain": ["A", "B", "C", "D", "F", "G", "I", "K"], "range": ["#000000", "#ff0000", "#0000ff", "#1ee81e", "#ff8000", "#8a00ff", "#007a00", "#800000"]}, "legend": null}
              }
            },
            {
              "data": {"name": "notes"},
              "transform": [{"filter": "datum.panel == 'h' && datum.role == 'tag'"}],
              "mark": {"type": "text", "font": "Liberation Serif", "fontSize": 38, "align": "center", "baseline": "alphabetic", "color": "black"},
              "encoding": {"x": {"field": "x", "type": "quantitative", "axis": null}, "y": {"field": "y", "type": "quantitative", "axis": null}, "text": {"field": "text"}}
            },
            {
              "data": {"name": "notes"},
              "transform": [{"filter": "datum.panel == 'h' && datum.role == 'big'"}],
              "mark": {"type": "text", "font": "Liberation Sans", "fontSize": 48, "align": "left", "baseline": "alphabetic", "color": "black"},
              "encoding": {"x": {"field": "x", "type": "quantitative", "axis": null}, "y": {"field": "y", "type": "quantitative", "axis": null}, "text": {"field": "text"}}
            },
            {
              "data": {"name": "notes"},
              "transform": [{"filter": "datum.panel == 'h' && datum.role == 'sub'"}],
              "mark": {"type": "text", "font": "Liberation Sans", "fontSize": 27, "align": "left", "baseline": "alphabetic", "color": "black"},
              "encoding": {"x": {"field": "x", "type": "quantitative", "axis": null}, "y": {"field": "y", "type": "quantitative", "axis": null}, "text": {"field": "text"}}
            }
          ]
        }
      ],
      "spacing": 214,
      "bounds": "flush",
      "resolve": {"scale": {"x": "independent", "y": "independent", "color": "independent", "stroke": "independent", "fill": "independent"}, "legend": {"color": "independent"}}
    },
    {
      "hconcat": [
        {
          "width": 421,
          "height": 566,
          "data": {"values": []},
          "mark": "point"
        },
        {
          "width": 742,
          "height": 566,
          "layer": [
            {
              "data": {"name": "curves"},
              "mark": {"type": "line", "clip": true, "strokeWidth": 1.5},
              "encoding": {
                "x": {"field": "x", "type": "quantitative", "scale": {"domain": [0.55, 1.5], "nice": false, "zero": false},
                  "axis": {"orient": "bottom", "values": [0.55, 0.6, 0.65, 0.7, 0.75, 0.8, 0.85, 0.9, 0.95, 1, 1.05, 1.1, 1.15, 1.2, 1.25, 1.3, 1.35, 1.4, 1.45, 1.5],
                    "labelExpr": "abs(datum.value * 10 - round(datum.value * 10)) < 0.001 ? format(datum.value, '.1f') : ''",
                    "tickSize": {"condition": {"test": "abs(datum.value * 10 - round(datum.value * 10)) < 0.001", "value": -9}, "value": -5},
                    "labelFontSize": 22, "labelPadding": 20, "title": "Cu/(Zn+IV)", "titleFont": "Liberation Sans", "titleFontWeight": "normal", "titleFontSize": 26, "titlePadding": 12}},
                "y": {"field": "y", "type": "quantitative", "scale": {"domain": [0.55, 1.5], "nice": false, "zero": false},
                  "axis": {"orient": "left", "values": [0.55, 0.6, 0.65, 0.7, 0.75, 0.8, 0.85, 0.9, 0.95, 1, 1.05, 1.1, 1.15, 1.2, 1.25, 1.3, 1.35, 1.4, 1.45, 1.5],
                    "labelExpr": "abs(datum.value * 10 - round(datum.value * 10)) < 0.001 ? format(datum.value, '.1f') : ''",
                    "tickSize": {"condition": {"test": "abs(datum.value * 10 - round(datum.value * 10)) < 0.001", "value": -9}, "value": -5},
                    "labelFontSize": 22, "labelPadding": 21, "title": "Zn/IV", "titleFont": "Liberation Sans", "titleFontWeight": "normal", "titleFontSize": 26, "titlePadding": 16}},
                "stroke": {"field": "curve", "type": "nominal", "scale": {"domain": ["A", "B", "C", "D", "F", "G", "I", "K"], "range": ["#000000", "#ff0000", "#0000ff", "#1ee81e", "#ff8000", "#8a00ff", "#007a00", "#800000"]}, "legend": null}
              }
            },
            {
              "data": {"name": "guides"},
              "transform": [{"filter": "datum.panel == 'i'"}],
              "mark": {"type": "line", "clip": true, "strokeDash": [4, 3], "strokeWidth": 1, "color": "#444444"},
              "encoding": {
                "x": {"field": "x", "type": "quantitative", "axis": {"orient": "top", "labels": false, "title": null, "values": [0.55, 0.6, 0.65, 0.7, 0.75, 0.8, 0.85, 0.9, 0.95, 1, 1.05, 1.1, 1.15, 1.2, 1.25, 1.3, 1.35, 1.4, 1.45, 1.5],
                  "tickSize": {"condition": {"test": "abs(datum.value * 10 - round(datum.value * 10)) < 0.001", "value": -9}, "value": -5}}},
                "y": {"field": "y", "type": "quantitative", "axis": {"orient": "right", "labels": false, "title": null, "values": [0.55, 0.6, 0.65, 0.7, 0.75, 0.8, 0.85, 0.9, 0.95, 1, 1.05, 1.1, 1.15, 1.2, 1.25, 1.3, 1.35, 1.4, 1.45, 1.5],
                  "tickSize": {"condition": {"test": "abs(datum.value * 10 - round(datum.value * 10)) < 0.001", "value": -9}, "value": -5}}},
                "detail": {"field": "seg"}
              }
            },
            {
              "data": {"name": "defects"},
              "mark": {"type": "errorbar", "ticks": {"opacity": 1}, "rule": {"opacity": 1}, "size": 8, "thickness": 1.3},
              "encoding": {
                "x": {"field": "x", "type": "quantitative", "axis": null},
                "xError": {"field": "xerr"},
                "y": {"field": "y", "type": "quantitative", "axis": null},
                "color": {"field": "conc", "type": "quantitative", "scale": {"type": "threshold", "domain": [3.4e19, 1.2e20, 2.0e20, 2.9e20, 3.7e20, 4.6e20, 5.4e20, 6.2e20, 7.1e20, 7.9e20, 8.8e20], "range": ["#c0c0c0", "#bde6fb", "#a3d4f2", "#8ec6ea", "#7bb9e2", "#68acda", "#569fd2", "#4592ca", "#3385c2", "#2179ba", "#0b6cae", "#000000"]},
                  "legend": {"type": "gradient", "orient": "none", "legendX": 28, "legendY": 259, "direction": "vertical", "title": null, "padding": 0, "gradientLength": 282, "gradientThickness": 38, "gradientStrokeColor": "#444444", "gradientStrokeWidth": 1.5, "labelFontSize": 14, "labelFont": "Liberation Sans", "labelColor": "black", "labelOffset": 1, "labelOverlap": false,
                    "labelExpr": "datum.value > 0 ? '— ' + format(datum.value / pow(10, floor(log(datum.value) / LN10 + 0.000001)), '.1f') + 'x10' + (floor(log(datum.value) / LN10 + 0.000001) >= 20 ? '²⁰' : '¹⁹') : ''"}}
              }
            },
            {
              "data": {"name": "defects"},
              "mark": {"type": "errorbar", "ticks": {"opacity": 1}, "rule": {"opacity": 1}, "size": 8, "thickness": 1.3},
              "encoding": {
                "x": {"field": "x", "type": "quantitative", "axis": null},
                "y": {"field": "y", "type": "quantitative", "axis": null},
                "yError": {"field": "yerr"},
                "color": {"field": "conc", "type": "quantitative", "scale": {"type": "threshold", "domain": [3.4e19, 1.2e20, 2.0e20, 2.9e20, 3.7e20, 4.6e20, 5.4e20, 6.2e20, 7.1e20, 7.9e20, 8.8e20], "range": ["#c0c0c0", "#bde6fb", "#a3d4f2", "#8ec6ea", "#7bb9e2", "#68acda", "#569fd2", "#4592ca", "#3385c2", "#2179ba", "#0b6cae", "#000000"]},
                  "legend": {"type": "gradient", "orient": "none", "legendX": 28, "legendY": 259, "direction": "vertical", "title": null, "padding": 0, "gradientLength": 282, "gradientThickness": 38, "gradientStrokeColor": "#444444", "gradientStrokeWidth": 1.5, "labelFontSize": 14, "labelFont": "Liberation Sans", "labelColor": "black", "labelOffset": 1, "labelOverlap": false,
                    "labelExpr": "datum.value > 0 ? '— ' + format(datum.value / pow(10, floor(log(datum.value) / LN10 + 0.000001)), '.1f') + 'x10' + (floor(log(datum.value) / LN10 + 0.000001) >= 20 ? '²⁰' : '¹⁹') : ''"}}
              }
            },
            {
              "data": {"name": "defects"},
              "mark": {"type": "point", "filled": true, "opacity": 1, "strokeWidth": 0},
              "encoding": {
                "x": {"field": "x", "type": "quantitative", "axis": null},
                "y": {"field": "y", "type": "quantitative", "axis": null},
                "shape": {"field": "material", "type": "nominal", "scale": {"domain": ["CZTSe", "CZTS", "CZGeSe"], "range": ["triangle-down", "triangle-up", "square"]},
                  "legend": {"orient": "none", "legendX": 559, "legendY": 16, "title": null, "padding": 0, "symbolFillColor": "#6aaedf", "symbolStrokeColor": "#6aaedf", "symbolStrokeWidth": 0, "labelFontSize": 28, "labelFont": "Liberation Sans", "labelColor": "black", "labelOffset": 25, "rowPadding": 6}},
                "size": {"field": "material", "type": "nominal", "scale": {"domain": ["CZTSe", "CZTS", "CZGeSe"], "range": [240, 240, 160]},
                  "legend": {"orient": "none", "legendX": 559, "legendY": 16, "title": null, "padding": 0, "symbolFillColor": "#6aaedf", "symbolStrokeColor": "#6aaedf", "symbolStrokeWidth": 0, "labelFontSize": 28, "labelFont": "Liberation Sans", "labelColor": "black", "labelOffset": 25, "rowPadding": 6}},
                "color": {"field": "conc", "type": "quantitative", "scale": {"type": "threshold", "domain": [3.4e19, 1.2e20, 2.0e20, 2.9e20, 3.7e20, 4.6e20, 5.4e20, 6.2e20, 7.1e20, 7.9e20, 8.8e20], "range": ["#c0c0c0", "#bde6fb", "#a3d4f2", "#8ec6ea", "#7bb9e2", "#68acda", "#569fd2", "#4592ca", "#3385c2", "#2179ba", "#0b6cae", "#000000"]},
                  "legend": {"type": "gradient", "orient": "none", "legendX": 28, "legendY": 259, "direction": "vertical", "title": null, "padding": 0, "gradientLength": 282, "gradientThickness": 38, "gradientStrokeColor": "#444444", "gradientStrokeWidth": 1.5, "labelFontSize": 14, "labelFont": "Liberation Sans", "labelColor": "black", "labelOffset": 1, "labelOverlap": false,
                    "labelExpr": "datum.value > 0 ? '— ' + format(datum.value / pow(10, floor(log(datum.value) / LN10 + 0.000001)), '.1f') + 'x10' + (floor(log(datum.value) / LN10 + 0.000001) >= 20 ? '²⁰' : '¹⁹') : ''"}}
              }
            },
            {
              "data": {"name": "letters"},
              "transform": [{"filter": "datum.panel == 'i'"}],
              "mark": {"type": "text", "font": "Lato", "fontWeight": "bold", "fontSize": 31, "align": "center", "baseline": "middle"},
              "encoding": {
                "x": {"field": "x", "type": "quantitative", "axis": null},
                "y": {"field": "y", "type": "quantitative", "axis": null},
                "text": {"field": "curve"},
                "fill": {"field": "curve", "type": "nominal", "scale": {"domain": ["A", "B", "C", "D", "F", "G", "I", "K"], "range": ["#000000", "#ff0000", "#0000ff", "#1ee81e", "#ff8000", "#8a00ff", "#007a00", "#800000"]}, "legend": null}
              }
            },
            {
              "data": {"name": "notes"},
              "transform": [{"filter": "datum.panel == 'i' && datum.role == 'tag'"}],
              "mark": {"type": "text", "font": "Liberation Serif", "fontSize": 38, "align": "center", "baseline": "alphabetic", "color": "black"},
              "encoding": {"x": {"field": "x", "type": "quantitative", "axis": null}, "y": {"field": "y", "type": "quantitative", "axis": null}, "text": {"field": "text"}}
            },
            {
              "data": {"name": "notes"},
              "transform": [{"filter": "datum.panel == 'i' && datum.role == 'note'"}],
              "mark": {"type": "text", "font": "Liberation Sans", "fontSize": 35, "align": "left", "baseline": "alphabetic", "color": "black"},
              "encoding": {"x": {"field": "x", "type": "quantitative", "axis": null}, "y": {"field": "y", "type": "quantitative", "axis": null}, "text": {"field": "text"}}
            }
          ]
        }
      ],
      "spacing": 0,
      "bounds": "flush",
      "resolve": {"scale": {"x": "independent", "y": "independent", "color": "independent", "stroke": "independent", "fill": "independent", "shape": "independent", "size": "independent"}, "legend": {"color": "independent", "shape": "independent", "size": "independent"}}
    }
  ],
  "spacing": 72,
  "bounds": "full",
  "resolve": {"scale": {"x": "independent", "y": "independent", "color": "independent", "stroke": "independent", "fill": "independent", "shape": "independent", "size": "independent"}, "legend": {"color": "independent", "shape": "independent", "size": "independent"}},
  "config": {
    "view": {"stroke": null},
    "axis": {"domainColor": "black", "domainWidth": 2, "tickColor": "black", "tickWidth": 1.5, "labelColor": "black", "titleColor": "black", "grid": false, "labelFlush": false, "labelOverlap": false, "labelFont": "Liberation Sans", "labelBound": false}
  }
}
